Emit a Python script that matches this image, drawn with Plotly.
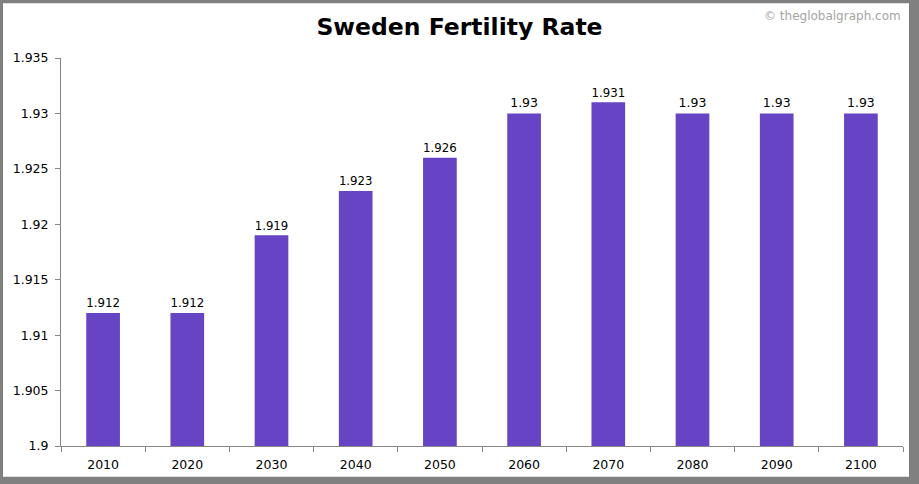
import plotly.graph_objects as go

years = ["2010", "2020", "2030", "2040", "2050", "2060", "2070", "2080", "2090", "2100"]
fertility = [1.912, 1.912, 1.919, 1.923, 1.926, 1.930, 1.931, 1.930, 1.930, 1.930]
bar_labels = ["1.912", "1.912", "1.919", "1.923", "1.926", "1.93", "1.931", "1.93", "1.93", "1.93"]
y_ticks = [1.9, 1.905, 1.91, 1.915, 1.92, 1.925, 1.93, 1.935]
y_tick_labels = ["1.9", "1.905", "1.91", "1.915", "1.92", "1.925", "1.93", "1.935"]

W, H = 919, 484
L, R, T, B = 61, 16, 58, 36
PW, PH = W - L - R, H - T - B


def px_x(x):
    return (x - L) / PW


def px_y(y):
    return (H - B - y) / PH


fig = go.Figure(
    go.Bar(
        x=years,
        y=fertility,
        text=bar_labels,
        textposition="outside",
        textfont=dict(family="DejaVu Sans", size=12.5, color="#000000"),
        marker=dict(color="#6644C4", line=dict(width=0)),
        cliponaxis=False,
        hoverinfo="x+y",
    )
)

fig.update_layout(
    width=W,
    height=H,
    margin=dict(l=L, r=R, t=T, b=B, pad=0),
    paper_bgcolor="#808080",
    plot_bgcolor="#ffffff",
    bargap=0.6,
    showlegend=False,
    font=dict(family="DejaVu Sans", size=12.5, color="#000000"),
    title=dict(
        text="<b>Sweden Fertility Rate</b>",
        x=0.5,
        xref="container",
        xanchor="center",
        y=1 - 27 / H,
        yanchor="middle",
        font=dict(family="DejaVu Sans", size=23.5, color="#000000"),
    ),
    shapes=[
        dict(
            type="rect",
            xref="paper",
            yref="paper",
            x0=px_x(3),
            x1=px_x(909),
            y0=px_y(479),
            y1=px_y(3),
            fillcolor="#ffffff",
            line=dict(width=0),
            layer="below",
        )
    ],
    annotations=[
        dict(
            text="© theglobalgraph.com",
            xref="paper",
            yref="paper",
            x=px_x(903),
            y=px_y(16),
            xanchor="right",
            yanchor="middle",
            showarrow=False,
            font=dict(family="DejaVu Sans", size=12, color="#a4a4a4"),
        )
    ],
)

fig.update_xaxes(
    type="category",
    showline=True,
    linecolor="#868686",
    linewidth=1,
    ticks="outside",
    tickson="boundaries",
    ticklen=5,
    tickcolor="#868686",
    showgrid=False,
    ticklabelstandoff=7,
)

fig.update_yaxes(
    range=[1.9, 1.935],
    tickvals=y_ticks,
    ticktext=y_tick_labels,
    showline=True,
    linecolor="#868686",
    linewidth=1,
    ticks="outside",
    ticklen=5,
    tickcolor="#868686",
    showgrid=False,
    zeroline=False,
    ticklabelstandoff=4,
)

# page body has a default 8px margin; drop it so the figure fills the window
fig.write_html(
    "out.html",
    config={"displayModeBar": False},
    post_script="document.body.style.margin='0';",
)
